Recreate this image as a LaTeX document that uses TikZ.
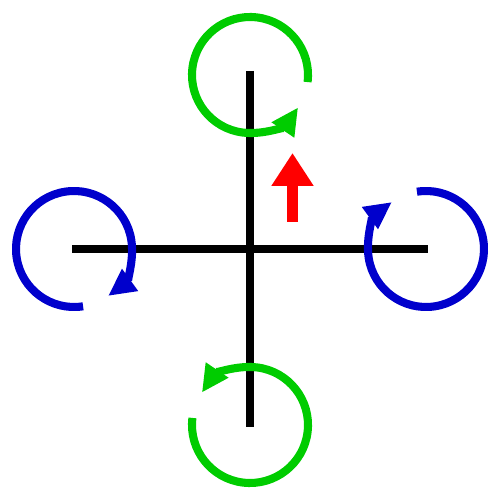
\documentclass[tikz,border=0pt]{standalone}
\usetikzlibrary{arrows.meta}
\definecolor{propgreen}{RGB}{0,204,0}
\definecolor{propblue}{RGB}{0,0,204}
\begin{document}
\begin{tikzpicture}[x=0.02cm,y=0.02cm,
    arm/.style={line width=4pt},
    spin/.style={line width=4.6pt, -{Triangle[length=15.5pt,width=14.5pt]}},
    lift/.style={line width=6.2pt, red, -{Triangle[length=18.7pt,width=22.7pt]}}]
  \useasboundingbox (0,0) rectangle (500,500);

  % Frame
  \coordinate (front) at (250,429);
  \coordinate (back) at (250,73);
  \coordinate (left) at (72,251);
  \coordinate (right) at (428,251);
  \draw[arm] (front) -- (back);
  \draw[arm] (left) -- (right);

  % Rotor centres
  \coordinate (rotorF) at (250,425);
  \coordinate (rotorB) at (250,75);
  \coordinate (rotorL) at (74,251);
  \coordinate (rotorR) at (426,251);

  % Front and back rotors
  \draw[spin, propgreen] (rotorF) ++(-7:58) arc[start angle=-7, end angle=326, radius=58];
  \draw[spin, propgreen] (rotorB) ++(173:58) arc[start angle=173, end angle=506, radius=58];

  % Left and right rotors
  \draw[spin, propblue] (rotorL) ++(279:58) arc[start angle=279, end angle=-54, radius=58];
  \draw[spin, propblue] (rotorR) ++(99:58) arc[start angle=99, end angle=-234, radius=58];

  % Thrust
  \coordinate (tail) at (292.5,278);
  \coordinate (nose) at (292.5,347);
  \draw[lift] (tail) -- (nose);
\end{tikzpicture}
\end{document}
